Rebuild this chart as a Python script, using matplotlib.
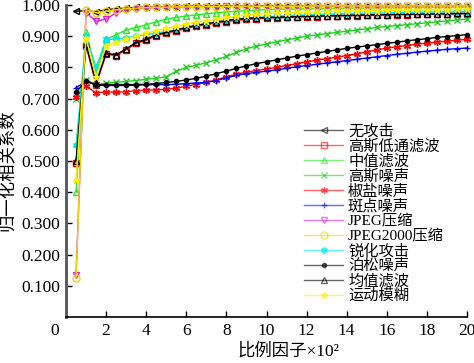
import matplotlib
matplotlib.use("Agg")
import matplotlib.pyplot as plt

plt.rcParams['font.family'] = ['Liberation Serif', 'Noto Sans CJK SC', 'DejaVu Sans']

# scale factor (x10^2)
scale = [0.5, 1.0, 1.5, 2.0, 2.5, 3.0, 3.5, 4.0, 4.5, 5.0,
         5.5, 6.0, 6.5, 7.0, 7.5, 8.0, 8.5, 9.0, 9.5, 10.0,
         10.5, 11.0, 11.5, 12.0, 12.5, 13.0, 13.5, 14.0, 14.5, 15.0,
         15.5, 16.0, 16.5, 17.0, 17.5, 18.0, 18.5, 19.0, 19.5, 20.0]

no_attack = [0.980, 0.982, 0.978, 0.985, 0.988, 0.990, 0.992, 0.993, 0.994, 0.995,
             0.995, 0.996, 0.996, 0.996, 0.997, 0.997, 0.997, 0.997, 0.997, 0.998,
             0.998, 0.998, 0.998, 0.998, 0.998, 0.998, 0.998, 0.998, 0.998, 0.998,
             0.998, 0.998, 0.998, 0.998, 0.998, 0.998, 0.998, 0.998, 0.998, 0.998]
gauss_lowpass = [0.495, 0.870, 0.745, 0.842, 0.838, 0.857, 0.877, 0.887, 0.902, 0.910,
                 0.917, 0.925, 0.932, 0.937, 0.942, 0.947, 0.951, 0.954, 0.956, 0.958,
                 0.959, 0.960, 0.961, 0.962, 0.963, 0.964, 0.965, 0.965, 0.966, 0.967,
                 0.967, 0.968, 0.969, 0.969, 0.970, 0.970, 0.971, 0.971, 0.971, 0.972]
median_filter = [0.400, 0.912, 0.780, 0.890, 0.905, 0.920, 0.928, 0.937, 0.946, 0.955,
                 0.960, 0.965, 0.968, 0.972, 0.975, 0.978, 0.980, 0.982, 0.983, 0.985,
                 0.986, 0.987, 0.987, 0.988, 0.988, 0.989, 0.989, 0.990, 0.990, 0.990,
                 0.991, 0.991, 0.991, 0.992, 0.992, 0.992, 0.993, 0.993, 0.993, 0.993]
gauss_noise = [0.700, 0.760, 0.745, 0.750, 0.752, 0.755, 0.758, 0.762, 0.765, 0.770,
               0.788, 0.800, 0.807, 0.815, 0.825, 0.835, 0.848, 0.860, 0.868, 0.875,
               0.882, 0.888, 0.894, 0.900, 0.904, 0.908, 0.912, 0.916, 0.920, 0.924,
               0.928, 0.931, 0.934, 0.937, 0.940, 0.943, 0.946, 0.949, 0.952, 0.955]
salt_pepper = [0.705, 0.740, 0.718, 0.722, 0.720, 0.722, 0.725, 0.727, 0.728, 0.730,
               0.733, 0.740, 0.745, 0.752, 0.760, 0.770, 0.778, 0.785, 0.790, 0.795,
               0.800, 0.806, 0.812, 0.818, 0.823, 0.828, 0.833, 0.838, 0.843, 0.850,
               0.856, 0.862, 0.866, 0.870, 0.874, 0.878, 0.881, 0.884, 0.887, 0.890]
speckle = [0.735, 0.755, 0.745, 0.742, 0.742, 0.742, 0.743, 0.744, 0.745, 0.745,
           0.746, 0.748, 0.750, 0.752, 0.758, 0.766, 0.775, 0.780, 0.784, 0.788,
           0.792, 0.797, 0.802, 0.806, 0.810, 0.814, 0.818, 0.822, 0.826, 0.830,
           0.834, 0.838, 0.842, 0.845, 0.849, 0.852, 0.855, 0.858, 0.860, 0.862]
jpeg = [0.135, 0.975, 0.948, 0.955, 0.975, 0.985, 0.988, 0.990, 0.992, 0.993,
        0.994, 0.994, 0.995, 0.995, 0.995, 0.996, 0.996, 0.996, 0.996, 0.996,
        0.996, 0.997, 0.997, 0.997, 0.997, 0.997, 0.997, 0.997, 0.997, 0.997,
        0.997, 0.997, 0.997, 0.997, 0.997, 0.997, 0.997, 0.997, 0.997, 0.997]
jpeg2000 = [0.125, 0.985, 0.975, 0.980, 0.985, 0.988, 0.990, 0.992, 0.993, 0.993,
            0.994, 0.994, 0.995, 0.995, 0.995, 0.995, 0.996, 0.996, 0.996, 0.996,
            0.996, 0.996, 0.996, 0.996, 0.997, 0.997, 0.997, 0.997, 0.997, 0.997,
            0.997, 0.997, 0.997, 0.997, 0.997, 0.997, 0.997, 0.997, 0.997, 0.997]
sharpen = [0.550, 0.900, 0.800, 0.890, 0.890, 0.895, 0.900, 0.905, 0.910, 0.915,
           0.920, 0.928, 0.935, 0.940, 0.945, 0.950, 0.955, 0.958, 0.960, 0.962,
           0.964, 0.966, 0.967, 0.968, 0.969, 0.970, 0.971, 0.972, 0.973, 0.973,
           0.974, 0.975, 0.975, 0.976, 0.976, 0.977, 0.977, 0.978, 0.978, 0.979]
poisson = [0.720, 0.758, 0.742, 0.745, 0.745, 0.745, 0.745, 0.746, 0.748, 0.752,
           0.755, 0.760, 0.765, 0.772, 0.780, 0.788, 0.797, 0.805, 0.812, 0.818,
           0.824, 0.830, 0.836, 0.841, 0.846, 0.851, 0.856, 0.861, 0.865, 0.869,
           0.873, 0.877, 0.881, 0.885, 0.889, 0.892, 0.896, 0.899, 0.902, 0.905]
mean_filter = [0.500, 0.875, 0.750, 0.846, 0.840, 0.860, 0.880, 0.890, 0.905, 0.912,
               0.920, 0.928, 0.935, 0.940, 0.945, 0.950, 0.954, 0.957, 0.959, 0.960,
               0.961, 0.962, 0.963, 0.964, 0.965, 0.966, 0.966, 0.967, 0.968, 0.968,
               0.969, 0.969, 0.970, 0.970, 0.971, 0.971, 0.972, 0.972, 0.973, 0.973]
motion_blur = [0.440, 0.895, 0.770, 0.870, 0.880, 0.890, 0.900, 0.910, 0.918, 0.925,
               0.932, 0.940, 0.945, 0.950, 0.955, 0.960, 0.965, 0.968, 0.970, 0.972,
               0.974, 0.975, 0.976, 0.977, 0.978, 0.979, 0.980, 0.980, 0.981, 0.982,
               0.982, 0.983, 0.983, 0.984, 0.984, 0.985, 0.985, 0.985, 0.986, 0.986]

labels = ['无攻击', '高斯低通滤波', '中值滤波', '高斯噪声', '椒盐噪声', '斑点噪声',
          'JPEG压缩', 'JPEG2000压缩', '锐化攻击', '泊松噪声', '均值滤波', '运动模糊']
series = [no_attack, gauss_lowpass, median_filter, gauss_noise, salt_pepper, speckle,
          jpeg, jpeg2000, sharpen, poisson, mean_filter, motion_blur]
# (line colour, marker, filled)
styles = [('#000000', '<', False),
          ('#ff0000', 's', False),
          ('#22ee22', '^', False),
          ('#22cc22', 'x', False),
          ('#ff0000', (6, 2, 0), False),
          ('#0000ff', '+', False),
          ('#dd22dd', 'v', False),
          ('#f5d000', 'o', False),
          ('#00e5ee', (6, 1, 0), True),
          ('#000000', '.', True),
          ('#000000', '^', False),
          ('#ffee00', '*', True)]

fig = plt.figure(figsize=(4.74, 3.63), dpi=100)
ax = fig.add_axes([66 / 474, 1 - 317 / 363, 401 / 474, 312 / 363])

for vals, lab, (col, mk, filled) in zip(series, labels, styles):
    ax.plot(scale, vals, color=col, marker=mk, markersize=5 if mk != '.' else 6,
            markerfacecolor=col if filled else 'none', markeredgecolor=col,
            markeredgewidth=1.0, linewidth=1.0, label=lab, clip_on=False)

ax.set_xlim(0, 20)
ax.set_ylim(0, 1.0)
ax.set_xticks([2, 4, 6, 8, 10, 12, 14, 16, 18, 20])
ax.set_yticks([0.1, 0.2, 0.3, 0.4, 0.5, 0.6, 0.7, 0.8, 0.9, 1.0])
ax.set_yticklabels(['%.3f' % v for v in ax.get_yticks()])
ax.tick_params(direction='in', length=4, width=1, labelsize=12.5, pad=4)
ax.text(-0.55, -0.045, '0', transform=ax.get_xaxis_transform(),
        ha='center', va='center', fontsize=12.5)

for s in ['top', 'right']:
    ax.spines[s].set_visible(False)
ax.spines['left'].set_color('#555555')
ax.spines['left'].set_linewidth(2)
ax.spines['bottom'].set_linewidth(1.2)

ax.set_ylabel('归一化相关系数', fontsize=12.5)
ax.yaxis.set_label_coords(-0.125, 0.47)
ax.set_xlabel('比例因子×10²', fontsize=12.5)
ax.xaxis.set_label_coords(0.554, -0.085)

leg = ax.legend(loc='lower left', bbox_to_anchor=(0.57, 0.015), frameon=False,
                fontsize=11, handlelength=2.6, handletextpad=0.3,
                labelspacing=0.04, borderpad=0.1)
for h in leg.get_lines():
    h.set_alpha(0.6)

fig.savefig('out.png', dpi=100)
